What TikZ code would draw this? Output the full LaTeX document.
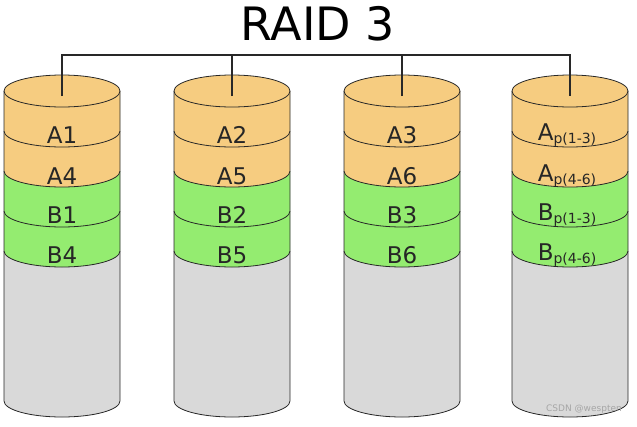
\documentclass[tikz,border=0pt]{standalone}
\usepackage{fontspec}
\setmainfont{DejaVu Sans}
\definecolor{ora}{RGB}{246,204,128}
\definecolor{grn}{RGB}{148,236,112}
\definecolor{gry}{RGB}{217,217,217}
\definecolor{edge}{RGB}{40,40,40}
\tikzset{lbl/.style={font=\fontsize{23}{23}\selectfont,text=black!85,inner sep=0pt},
 cyl/.style={draw=edge,line width=0.8pt}}
\newcommand{\band}[3]{% center x, top y, color
 \fill[#3] (#1-58,#2) -- (#1-58,#2+40) arc[start angle=180,end angle=0,x radius=58,y radius=16] -- (#1+58,#2) -- cycle;
 \draw[cyl] (#1-58,#2) -- (#1-58,#2+40) arc[start angle=180,end angle=0,x radius=58,y radius=16] -- (#1+58,#2);}
\begin{document}
\begin{tikzpicture}[x=1pt,y=-1pt]
\useasboundingbox (0,0) rectangle (637,426);
\node[font=\fontsize{46}{46}\selectfont,inner sep=0pt] (title) at (318,24) {RAID 3};
\foreach \c/\i in {62/1,232/2,402/3,570/4}{
 \fill[gry] (\c-58,251) -- (\c-58,401) arc[start angle=180,end angle=0,x radius=58,y radius=16] -- (\c+58,251) -- cycle;
 \draw[cyl] (\c-58,251) -- (\c-58,401) arc[start angle=180,end angle=0,x radius=58,y radius=16] -- (\c+58,251);
 \band{\c}{211}{grn}
 \band{\c}{171}{grn}
 \band{\c}{131}{ora}
 \band{\c}{91}{ora}
 \draw[cyl,fill=ora] (\c,91) ellipse[x radius=58,y radius=16];
 \coordinate (top\i) at (\c,96);
 \coordinate (bus\i) at (\c,55);
}
\draw[line width=1.2pt,edge] (top1) -- (bus1) -- (bus4) -- (top4);
\draw[line width=1.2pt,edge] (top2) -- (bus2);
\draw[line width=1.2pt,edge] (top3) -- (bus3);
\foreach \c/\i/\a/\b/\d/\e in {62/1/A1/A4/B1/B4,232/2/A2/A5/B2/B5,402/3/A3/A6/B3/B6}{
 \node[lbl] (a\i) at (\c,135) {\a};
 \node[lbl] (b\i) at (\c,176) {\b};
 \node[lbl] (d\i) at (\c,215) {\d};
 \node[lbl] (e\i) at (\c,255) {\e};
}
\newcommand{\pl}[2]{#1\raisebox{-3pt}{\fontsize{14}{14}\selectfont p(#2)}}
\node[lbl] (pa1) at (567,135) {\pl{A}{1-3}};
\node[lbl] (pa2) at (567,176) {\pl{A}{4-6}};
\node[lbl] (pb1) at (567,215) {\pl{B}{1-3}};
\node[lbl] (pb2) at (567,255) {\pl{B}{4-6}};
\node[font=\fontsize{9}{9}\selectfont,text=gray!70,anchor=east,inner sep=0pt] (wm) at (622,409) {CSDN @wespten};
\end{tikzpicture}
\end{document}
